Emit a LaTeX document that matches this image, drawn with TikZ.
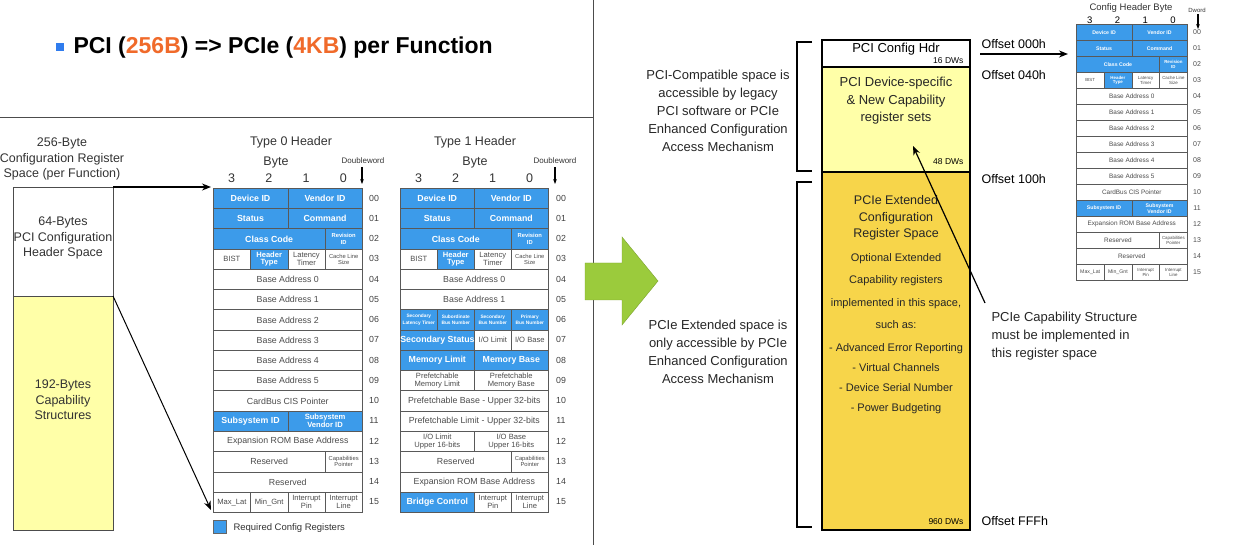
\documentclass[tikz,border=0pt]{standalone}
\usepackage{fontspec}
\setmainfont{Liberation Sans}
\usetikzlibrary{arrows.meta}
\definecolor{regblue}{HTML}{3C9BEA}
\definecolor{ltyel}{HTML}{FFFFA8}
\definecolor{gold}{HTML}{F7D54A}
\definecolor{titred}{HTML}{F06A2A}
\definecolor{arrgreen}{HTML}{9BCB3C}
\newcommand\tf{\fontsize{8.8}{9.5}\selectfont}
\newcommand\tfs{\fontsize{5.8}{6.4}\selectfont}
\newcommand\tfm{\fontsize{7.6}{8.4}\selectfont}
\newcommand\C[6]{\node[#5, anchor=north west, minimum width={(#3-#2)*\tW/4}, minimum height=\tH] (#1) at ({\tX+#2*\tW/4},{\tY+#4*\tH}) {#6};}
\begin{document}
\begin{tikzpicture}[x=1pt,y=-1pt,
  cellb/.style={draw=black!65, line width=0.6pt, inner sep=0pt, align=center},
  wc/.style={cellb, fill=white, text=black!70, font=\tf},
  wm/.style={cellb, fill=white, text=black!70, font=\tfm},
  ws/.style={cellb, fill=white, text=black!70, font=\tfs},
  bc/.style={cellb, fill=regblue, text=white, font=\bfseries\tf},
  bs/.style={cellb, fill=regblue, text=white, font=\bfseries\tfs},
  numlab/.style={font=\tf, text=black!75},
  lab/.style={font=\fontsize{12.5}{15.5}\selectfont, text=black!80, align=center},
  rlab/.style={font=\fontsize{13}{18}\selectfont, text=black!85, align=center},
  arr/.style={-{Stealth[length=9pt,width=7pt]}, line width=1.3pt}]
\useasboundingbox (0,0) rectangle (1243,545);
% title
\fill[regblue!80!blue] (56,43) rectangle (64,51);
\node[anchor=west, font=\bfseries\fontsize{23}{26}\selectfont] (title) at (70,48) {PCI (\textcolor{titred}{256B}) => PCIe (\textcolor{titred}{4KB}) per Function};
\draw[black!70, line width=0.8pt] (0,117) -- (593,117);
\draw[black!70, line width=0.8pt] (593,0) -- (593,545);
% left space box
\node[lab] (l256) at (62,159) {256-Byte\\Configuration Register\\Space (per Function)};
\draw[black!70, fill=white] (13,187) rectangle (113,296);
\draw[black!70, fill=ltyel] (13,296) rectangle (113,530);
\node[lab] (l64) at (63,238) {64-Bytes\\PCI Configuration\\Header Space};
\node[lab] (l192) at (63,400) {192-Bytes\\Capability\\Structures};
\coordinate (ltop) at (113,187);
\coordinate (lbot) at (113,296);
\coordinate (ttop) at (211,187);
\coordinate (tbot) at (211,510);
\draw[arr] (ltop) -- (ttop);
\draw[arr, line width=1pt] (lbot) -- (tbot);
% ---------- Type 0 ----------
\def\tX{213}\def\tW{149}\def\tY{188}\def\tH{20.25}
\node[lab] (h0) at (291,142) {Type 0 Header};
\node[lab] (b0) at (276,162) {Byte};
\foreach \i/\c in {0/3,1/2,2/1,3/0} \node[lab] (b0\i) at ({\tX+(\i+0.5)*\tW/4},178) {\c};
\node[font=\fontsize{8}{9}\selectfont, text=black!80] (dw0) at (363,161) {Doubleword};
\draw[-{Stealth[length=5pt]}, line width=1.3pt] (362,167) -- (362,184);
\C{a00}{0}{2}{0}{bc}{Device ID}\C{a01}{2}{4}{0}{bc}{Vendor ID}
\C{a10}{0}{2}{1}{bc}{Status}\C{a11}{2}{4}{1}{bc}{Command}
\C{a20}{0}{3}{2}{bc}{Class Code}\C{a21}{3}{4}{2}{bs}{Revision\\ID}
\C{a30}{0}{1}{3}{wm}{BIST}\C{a31}{1}{2}{3}{bs}{\tfm Header\\\tfm Type}\C{a32}{2}{3}{3}{wm}{Latency\\Timer}\C{a33}{3}{4}{3}{ws}{Cache Line\\Size}
\foreach \r in {0,...,5}{\pgfmathtruncatemacro\rr{\r+4}\C{a\rr}{0}{4}{\rr}{wc}{Base Address \r}}
\C{a10x}{0}{4}{10}{wc}{CardBus CIS Pointer}
\C{a11a}{0}{2}{11}{bc}{Subsystem ID}\C{a11b}{2}{4}{11}{bs}{\tfm Subsystem\\\tfm Vendor ID}
\C{a12}{0}{4}{12}{wc}{Expansion ROM Base Address}
\C{a13a}{0}{3}{13}{wc}{Reserved}\C{a13b}{3}{4}{13}{ws}{Capabilities\\Pointer}
\C{a14}{0}{4}{14}{wc}{Reserved}
\C{a15a}{0}{1}{15}{wm}{Max\_Lat}\C{a15b}{1}{2}{15}{wm}{Min\_Gnt}\C{a15c}{2}{3}{15}{wm}{Interrupt\\Pin}\C{a15d}{3}{4}{15}{wm}{Interrupt\\Line}
\foreach \r [count=\k from 0] in {00,01,02,03,04,05,06,07,08,09,10,11,12,13,14,15}{\node[numlab] (an\k) at ({\tX+\tW+12},{\tY+(\k+0.5)*\tH}) {\r};}
\fill[regblue, draw=black!60] (213,520) rectangle (226,533);
\node[anchor=west, font=\fontsize{9.5}{10}\selectfont, text=black!80] (leg) at (230,528) {Required Config Registers};
% ---------- Type 1 ----------
\def\tX{400}\def\tW{148}
\node[lab] (h1) at (475,142) {Type 1 Header};
\node[lab] (b1) at (475,162) {Byte};
\foreach \i/\c in {0/3,1/2,2/1,3/0} \node[lab] (b1\i) at ({\tX+(\i+0.5)*\tW/4},178) {\c};
\node[font=\fontsize{8}{9}\selectfont, text=black!80] (dw1) at (555,161) {Doubleword};
\draw[-{Stealth[length=5pt]}, line width=1.3pt] (555,167) -- (555,184);
\C{c00}{0}{2}{0}{bc}{Device ID}\C{c01}{2}{4}{0}{bc}{Vendor ID}
\C{c10}{0}{2}{1}{bc}{Status}\C{c11}{2}{4}{1}{bc}{Command}
\C{c20}{0}{3}{2}{bc}{Class Code}\C{c21}{3}{4}{2}{bs}{Revision\\ID}
\C{c30}{0}{1}{3}{wm}{BIST}\C{c31}{1}{2}{3}{bs}{\tfm Header\\\tfm Type}\C{c32}{2}{3}{3}{wm}{Latency\\Timer}\C{c33}{3}{4}{3}{ws}{Cache Line\\Size}
\C{c4}{0}{4}{4}{wc}{Base Address 0}\C{c5}{0}{4}{5}{wc}{Base Address 1}
\C{c6a}{0}{1}{6}{bs}{\fontsize{4.8}{5.4}\selectfont Secondary\\\fontsize{4.8}{5.4}\selectfont Latency Timer}\C{c6b}{1}{2}{6}{bs}{\fontsize{4.8}{5.4}\selectfont Subordinate\\\fontsize{4.8}{5.4}\selectfont Bus Number}\C{c6c}{2}{3}{6}{bs}{\fontsize{4.8}{5.4}\selectfont Secondary\\\fontsize{4.8}{5.4}\selectfont Bus Number}\C{c6d}{3}{4}{6}{bs}{\fontsize{4.8}{5.4}\selectfont Primary\\\fontsize{4.8}{5.4}\selectfont Bus Number}
\C{c7a}{0}{2}{7}{bc}{Secondary Status}\C{c7b}{2}{3}{7}{wm}{I/O Limit}\C{c7c}{3}{4}{7}{wm}{I/O Base}
\C{c8a}{0}{2}{8}{bc}{Memory Limit}\C{c8b}{2}{4}{8}{bc}{Memory Base}
\C{c9a}{0}{2}{9}{wm}{Prefetchable\\Memory Limit}\C{c9b}{2}{4}{9}{wm}{Prefetchable\\Memory Base}
\C{c10x}{0}{4}{10}{wc}{Prefetchable Base - Upper 32-bits}
\C{c11x}{0}{4}{11}{wc}{Prefetchable Limit - Upper 32-bits}
\C{c12a}{0}{2}{12}{wm}{I/O Limit\\Upper 16-bits}\C{c12b}{2}{4}{12}{wm}{I/O Base\\Upper 16-bits}
\C{c13a}{0}{3}{13}{wc}{Reserved}\C{c13b}{3}{4}{13}{ws}{Capabilities\\Pointer}
\C{c14}{0}{4}{14}{wc}{Expansion ROM Base Address}
\C{c15a}{0}{2}{15}{bc}{Bridge Control}\C{c15c}{2}{3}{15}{wm}{Interrupt\\Pin}\C{c15d}{3}{4}{15}{wm}{Interrupt\\Line}
\foreach \r [count=\k from 0] in {00,01,02,03,04,05,06,07,08,09,10,11,12,13,14,15}{\node[numlab] (cn\k) at ({\tX+\tW+13},{\tY+(\k+0.5)*\tH}) {\r};}
% green arrow
\fill[arrgreen, draw=arrgreen!80!black] (585,263) -- (622,263) -- (622,237) -- (658,281) -- (622,325) -- (622,300) -- (585,300) -- cycle;
% ---------- right column ----------
\draw[line width=1.6pt, fill=white] (822,40) rectangle (970,67);
\draw[line width=1.6pt, fill=ltyel] (822,67) rectangle (970,172);
\draw[line width=1.6pt, fill=gold] (822,172) rectangle (970,530);
\node[font=\fontsize{13}{15}\selectfont] (hdr) at (896,49) {PCI Config Hdr};
\node[font=\fontsize{8.5}{9}\selectfont, anchor=east] (d16) at (967,61) {16 DWs};
\node[rlab, font=\fontsize{13}{17.5}\selectfont] (devs) at (896,101) {PCI Device-specific\\\& New Capability\\register sets};
\node[font=\fontsize{8.5}{9}\selectfont, anchor=east] (d48) at (967,162) {48 DWs};
\node[rlab, font=\fontsize{12.5}{16.5}\selectfont] (ext) at (896,218) {PCIe Extended\\Configuration\\Register Space};
\node[rlab, font=\fontsize{11}{22.5}\selectfont] (opt) at (896,291) {Optional Extended\\Capability registers\\implemented in this space,\\such as:};
\node[rlab, font=\fontsize{11}{20}\selectfont] (lst) at (896,379) {- Advanced Error Reporting\\- Virtual Channels\\- Device Serial Number\\- Power Budgeting};
\node[font=\fontsize{8.5}{9}\selectfont, anchor=east] (d960) at (967,522) {960 DWs};
\node[font=\fontsize{12.5}{14}\selectfont, anchor=west] (o0) at (978,44) {Offset 000h};
\node[font=\fontsize{12.5}{14}\selectfont, anchor=west] (o40) at (978,75) {Offset 040h};
\node[font=\fontsize{12.5}{14}\selectfont, anchor=west] (o100) at (978,179) {Offset 100h};
\node[font=\fontsize{12.5}{14}\selectfont, anchor=west] (offf) at (978,521) {Offset FFFh};
\coordinate (oa) at (980,54); \coordinate (ob) at (1068,54);
\draw[arr] (oa) -- (ob);
\draw[line width=2.5pt] (812,42) -- (797,42) -- (797,171) -- (812,171);
\draw[line width=2.5pt] (812,182) -- (797,182) -- (797,527) -- (812,527);
\node[rlab] (pcic) at (718,111) {PCI-Compatible space is\\accessible by legacy\\PCI software or PCIe\\Enhanced Configuration\\Access Mechanism};
\node[rlab] (pcie) at (718,352) {PCIe Extended space is\\only accessible by PCIe\\Enhanced Configuration\\Access Mechanism};
\node[rlab, align=left, anchor=north west] (capst) at (988,309) {PCIe Capability Structure\\must be implemented in\\this register space};
\coordinate (cs) at (985,303); \coordinate (ce) at (913,146);
\draw[arr, line width=1.2pt] (cs) -- (ce);
% ---------- small table ----------
\renewcommand\tf{\fontsize{6.4}{7}\selectfont}
\renewcommand\tfs{\fontsize{4.4}{4.8}\selectfont}
\renewcommand\tfm{\fontsize{5.2}{5.8}\selectfont}
\def\tX{1076}\def\tW{111}\def\tY{24}\def\tH{16}
\node[font=\fontsize{9.5}{10}\selectfont, text=black!80] (chb) at (1131,8) {Config Header Byte};
\foreach \i/\c in {0/3,1/2,2/1,3/0} \node[font=\fontsize{9.5}{10}\selectfont] (s\i) at ({\tX+(\i+0.5)*\tW/4},20) {\c};
\node[font=\fontsize{6}{7}\selectfont, text=black!80] (dws) at (1197,10) {Dword};
\draw[-{Stealth[length=5pt]}, line width=1.4pt] (1198,14) -- (1198,29);
\C{s00}{0}{2}{0}{bs}{\tfm Device ID}\C{s01}{2}{4}{0}{bs}{\tfm Vendor ID}
\C{s10}{0}{2}{1}{bs}{\tfm Status}\C{s11}{2}{4}{1}{bs}{\tfm Command}
\C{s20}{0}{3}{2}{bs}{\tfm Class Code}\C{s21}{3}{4}{2}{bs}{Revision\\ID}
\C{s30}{0}{1}{3}{ws}{BIST}\C{s31}{1}{2}{3}{bs}{Header\\Type}\C{s32}{2}{3}{3}{ws}{Latency\\Timer}\C{s33}{3}{4}{3}{ws}{Cache Line\\Size}
\foreach \r in {0,...,5}{\pgfmathtruncatemacro\rr{\r+4}\C{s\rr}{0}{4}{\rr}{wc}{Base Address \r}}
\C{s10x}{0}{4}{10}{wc}{CardBus CIS Pointer}
\C{s11a}{0}{2}{11}{bs}{\tfm Subsystem ID}\C{s11b}{2}{4}{11}{bs}{\tfm Subsystem\\\tfm Vendor ID}
\C{s12}{0}{4}{12}{wc}{Expansion ROM Base Address}
\C{s13a}{0}{3}{13}{wc}{Reserved}\C{s13b}{3}{4}{13}{ws}{Capabilities\\Pointer}
\C{s14}{0}{4}{14}{wc}{Reserved}
\C{s15a}{0}{1}{15}{wm}{Max\_Lat}\C{s15b}{1}{2}{15}{wm}{Min\_Gnt}\C{s15c}{2}{3}{15}{ws}{Interrupt\\Pin}\C{s15d}{3}{4}{15}{ws}{Interrupt\\Line}
\foreach \r [count=\k from 0] in {00,01,02,03,04,05,06,07,08,09,10,11,12,13,14,15}{\node[font=\fontsize{7}{8}\selectfont, text=black!70] (sn\k) at ({\tX+\tW+10},{\tY+(\k+0.5)*\tH}) {\r};}
\end{tikzpicture}
\end{document}
